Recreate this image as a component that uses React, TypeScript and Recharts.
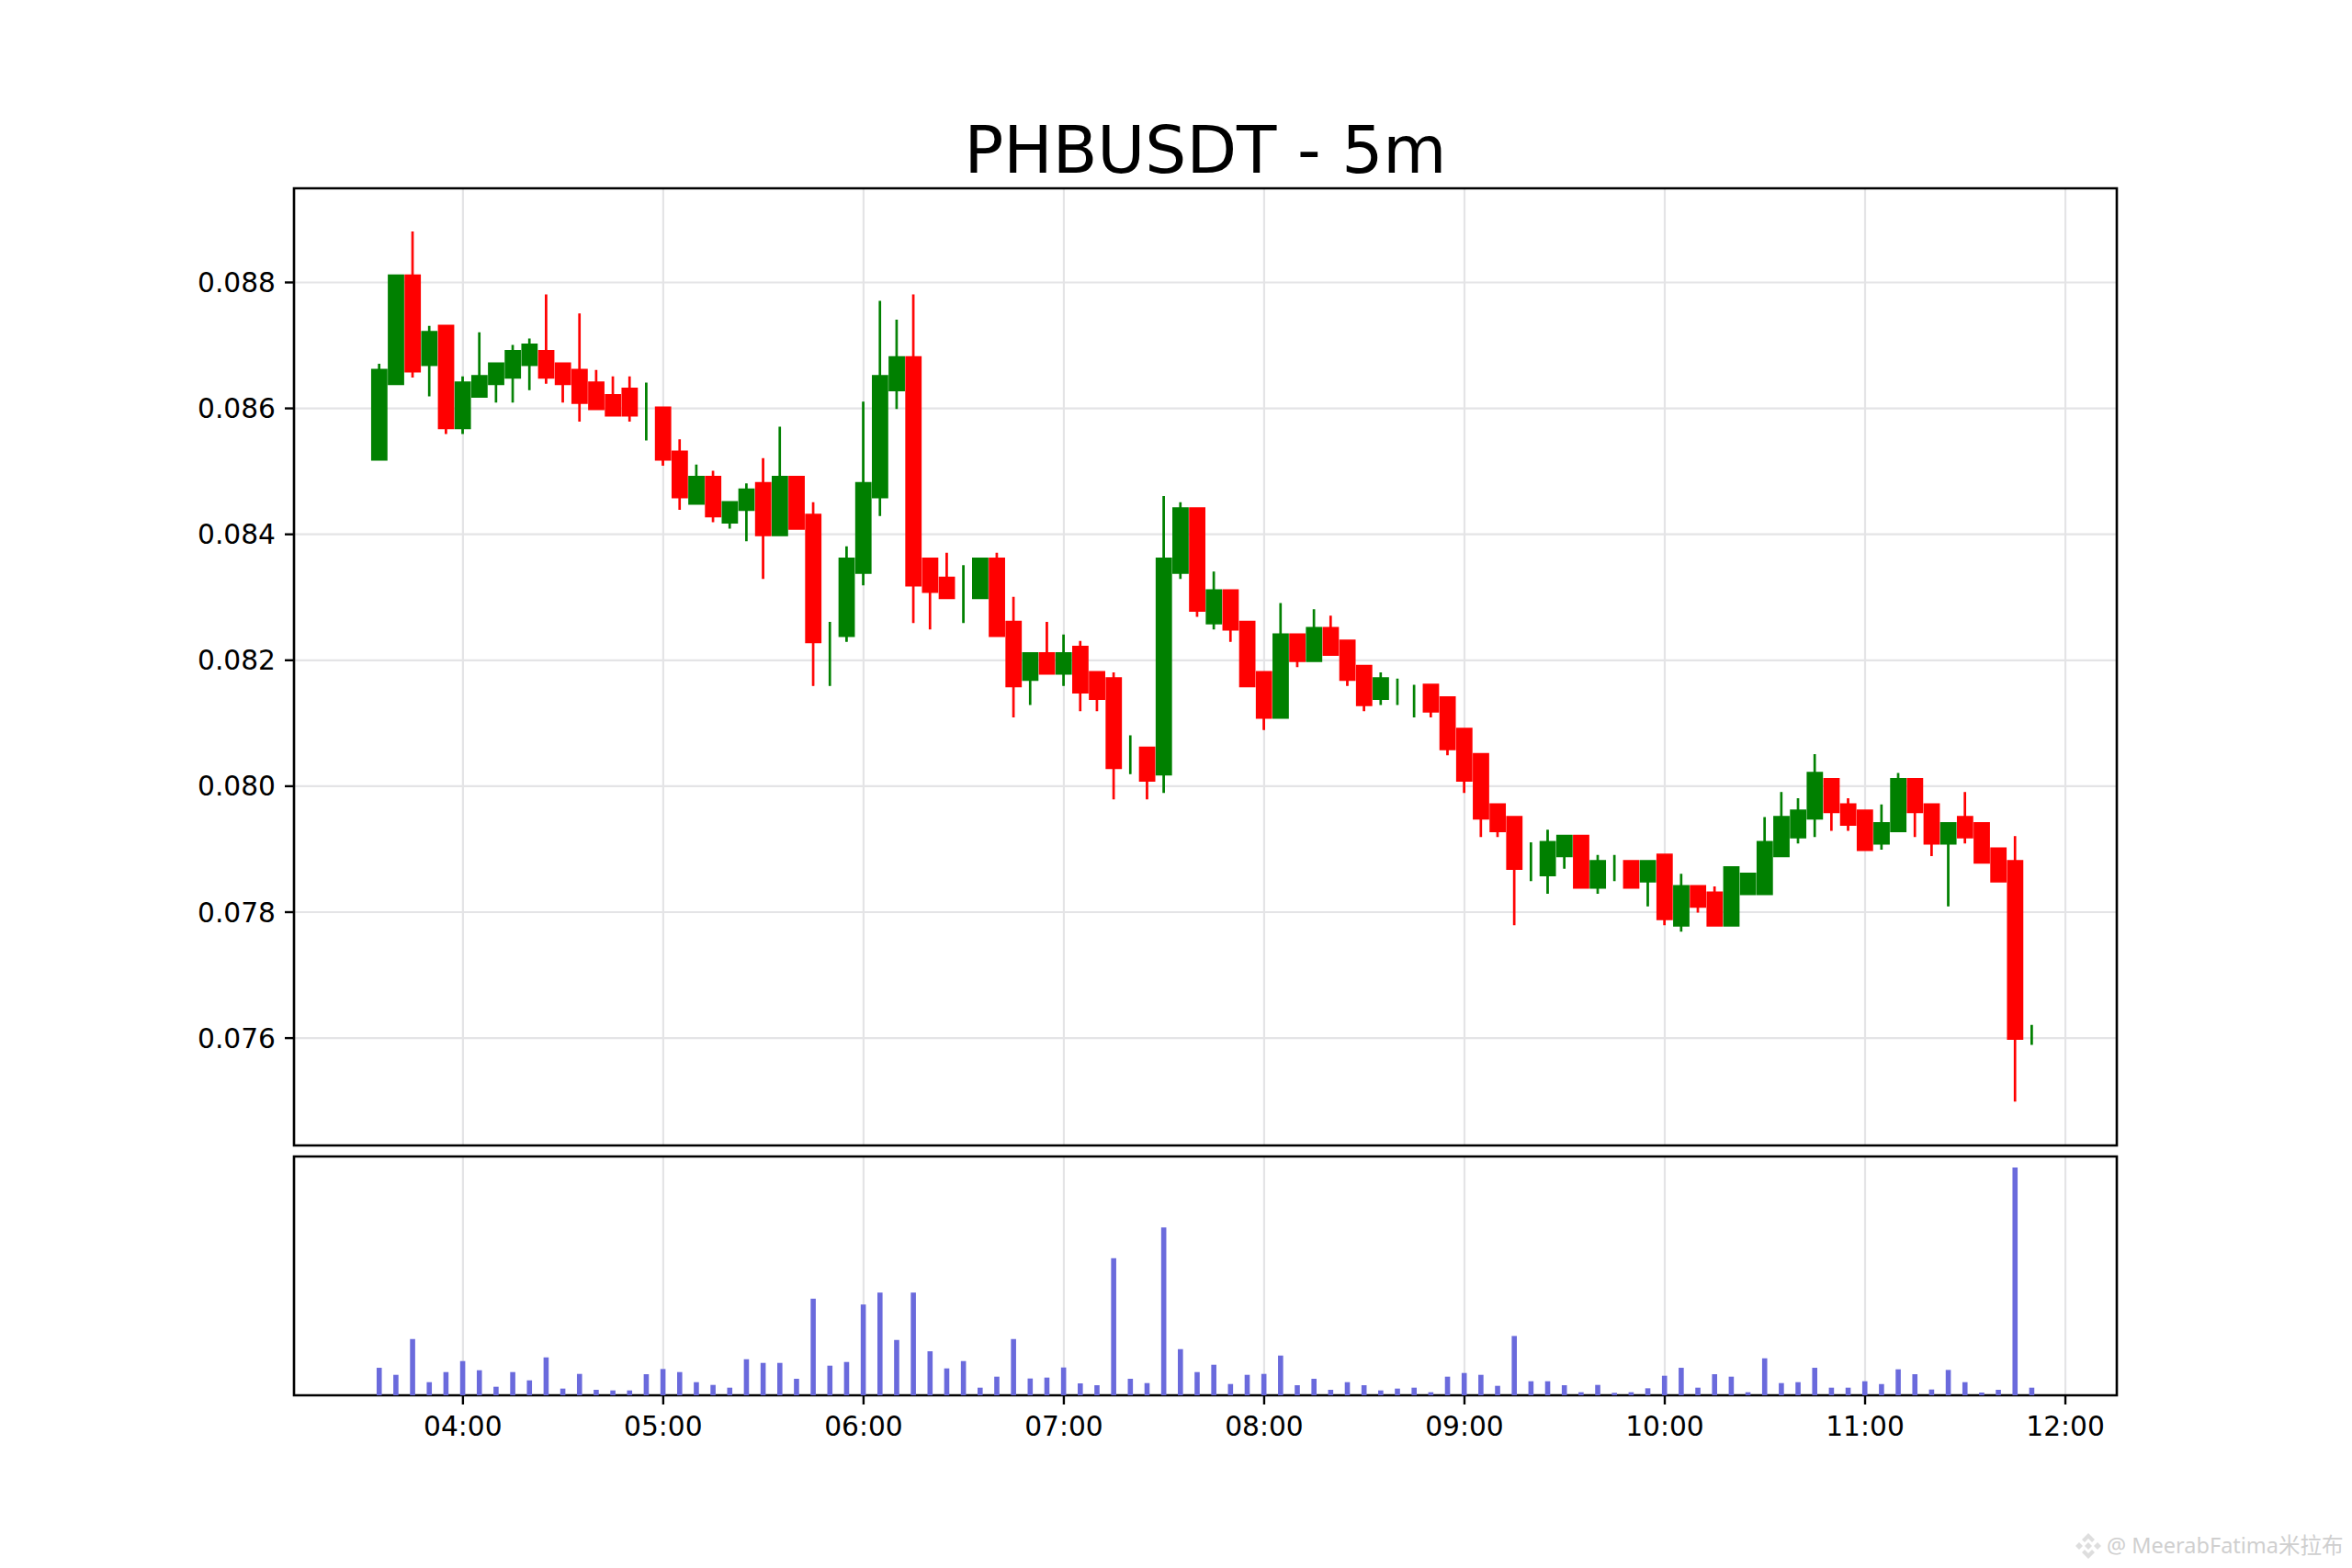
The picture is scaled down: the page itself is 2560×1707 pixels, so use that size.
import { Bar, CartesianGrid, Cell, ComposedChart, ReferenceArea, XAxis, YAxis } from "recharts";

const times = [
  "03:35", "03:40", "03:45", "03:50", "03:55", "04:00", "04:05", "04:10", "04:15", "04:20",
  "04:25", "04:30", "04:35", "04:40", "04:45", "04:50", "04:55", "05:00", "05:05", "05:10",
  "05:15", "05:20", "05:25", "05:30", "05:35", "05:40", "05:45", "05:50", "05:55", "06:00",
  "06:05", "06:10", "06:15", "06:20", "06:25", "06:30", "06:35", "06:40", "06:45", "06:50",
  "06:55", "07:00", "07:05", "07:10", "07:15", "07:20", "07:25", "07:30", "07:35", "07:40",
  "07:45", "07:50", "07:55", "08:00", "08:05", "08:10", "08:15", "08:20", "08:25", "08:30",
  "08:35", "08:40", "08:45", "08:50", "08:55", "09:00", "09:05", "09:10", "09:15", "09:20",
  "09:25", "09:30", "09:35", "09:40", "09:45", "09:50", "09:55", "10:00", "10:05", "10:10",
  "10:15", "10:20", "10:25", "10:30", "10:35", "10:40", "10:45", "10:50", "10:55", "11:00",
  "11:05", "11:10", "11:15", "11:20", "11:25", "11:30", "11:35", "11:40", "11:45", "11:50",
];

const opens = [
  0.0852, 0.0864, 0.0881, 0.0867, 0.0873, 0.0857, 0.0862, 0.0864, 0.0865, 0.0867,
  0.0869, 0.0867, 0.0866, 0.0864, 0.0862, 0.0863, 0.0859, 0.086, 0.0853, 0.0845,
  0.0849, 0.0842, 0.0844, 0.0848, 0.084, 0.0849, 0.0843, 0.0823, 0.0824, 0.0834,
  0.0846, 0.0863, 0.0868, 0.0836, 0.0833, 0.083, 0.083, 0.0836, 0.0826, 0.0817,
  0.0821, 0.0818, 0.0822, 0.0818, 0.0817, 0.0803, 0.0806, 0.0802, 0.0834, 0.0844,
  0.0826, 0.0831, 0.0826, 0.0818, 0.0811, 0.0824, 0.082, 0.0825, 0.0823, 0.0819,
  0.0814, 0.0815, 0.0814, 0.0816, 0.0814, 0.0809, 0.0805, 0.0797, 0.0795, 0.0787,
  0.0786, 0.0789, 0.0792, 0.0784, 0.0788, 0.0788, 0.0785, 0.0789, 0.0778, 0.0784,
  0.0783, 0.0778, 0.0783, 0.0783, 0.0789, 0.0792, 0.0795, 0.0801, 0.0797, 0.0796,
  0.0791, 0.0793, 0.0801, 0.0797, 0.0791, 0.0795, 0.0794, 0.079, 0.0788, 0.076,
];

const closes = [
  0.0866, 0.0881, 0.0866, 0.0872, 0.0857, 0.0864, 0.0865, 0.0867, 0.0869, 0.087,
  0.0865, 0.0864, 0.0861, 0.086, 0.0859, 0.0859, 0.0859, 0.0852, 0.0846, 0.0849,
  0.0843, 0.0845, 0.0847, 0.084, 0.0849, 0.0841, 0.0823, 0.0823, 0.0836, 0.0848,
  0.0865, 0.0868, 0.0832, 0.0831, 0.083, 0.083, 0.0836, 0.0824, 0.0816, 0.0821,
  0.0818, 0.0821, 0.0815, 0.0814, 0.0803, 0.0803, 0.0801, 0.0836, 0.0844, 0.0828,
  0.0831, 0.0825, 0.0816, 0.0811, 0.0824, 0.082, 0.0825, 0.0821, 0.0817, 0.0813,
  0.0817, 0.0815, 0.0814, 0.0812, 0.0806, 0.0801, 0.0795, 0.0793, 0.0787, 0.0787,
  0.0791, 0.0792, 0.0784, 0.0788, 0.0788, 0.0784, 0.0788, 0.0779, 0.0784, 0.0781,
  0.0778, 0.0787, 0.0786, 0.0791, 0.0795, 0.0796, 0.0802, 0.0796, 0.0794, 0.079,
  0.0794, 0.0801, 0.0796, 0.0791, 0.0794, 0.0792, 0.0788, 0.0785, 0.076, 0.076,
];

const highs = [
  0.0867, 0.0881, 0.0888, 0.0873, 0.0873, 0.0865, 0.0872, 0.0867, 0.087, 0.0871,
  0.0878, 0.0867, 0.0875, 0.0866, 0.0865, 0.0865, 0.0864, 0.086, 0.0855, 0.0851,
  0.085, 0.0845, 0.0848, 0.0852, 0.0857, 0.0849, 0.0845, 0.0826, 0.0838, 0.0861,
  0.0877, 0.0874, 0.0878, 0.0836, 0.0837, 0.0835, 0.0836, 0.0837, 0.083, 0.0821,
  0.0826, 0.0824, 0.0823, 0.0818, 0.0818, 0.0808, 0.0806, 0.0846, 0.0845, 0.0844,
  0.0834, 0.0831, 0.0826, 0.0818, 0.0829, 0.0824, 0.0828, 0.0827, 0.0823, 0.0819,
  0.0818, 0.0817, 0.0816, 0.0816, 0.0814, 0.0809, 0.0805, 0.0797, 0.0795, 0.0791,
  0.0793, 0.0792, 0.0792, 0.0789, 0.0789, 0.0788, 0.0788, 0.0789, 0.0786, 0.0784,
  0.0784, 0.0787, 0.0786, 0.0795, 0.0799, 0.0798, 0.0805, 0.0801, 0.0798, 0.0796,
  0.0797, 0.0802, 0.0801, 0.0797, 0.0794, 0.0799, 0.0794, 0.079, 0.0792, 0.0762,
];

const lows = [
  0.0852, 0.0864, 0.0865, 0.0862, 0.0856, 0.0856, 0.0862, 0.0861, 0.0861, 0.0863,
  0.0864, 0.0861, 0.0858, 0.086, 0.0859, 0.0858, 0.0855, 0.0851, 0.0844, 0.0845,
  0.0842, 0.0841, 0.0839, 0.0833, 0.084, 0.0841, 0.0816, 0.0816, 0.0823, 0.0832,
  0.0843, 0.086, 0.0826, 0.0825, 0.083, 0.0826, 0.083, 0.0824, 0.0811, 0.0813,
  0.0818, 0.0816, 0.0812, 0.0812, 0.0798, 0.0802, 0.0798, 0.0799, 0.0833, 0.0827,
  0.0825, 0.0823, 0.0816, 0.0809, 0.0811, 0.0819, 0.082, 0.0821, 0.0816, 0.0812,
  0.0813, 0.0813, 0.0811, 0.0811, 0.0805, 0.0799, 0.0792, 0.0792, 0.0778, 0.0785,
  0.0783, 0.0787, 0.0784, 0.0783, 0.0785, 0.0784, 0.0781, 0.0778, 0.0777, 0.078,
  0.0778, 0.0778, 0.0783, 0.0783, 0.0789, 0.0791, 0.0792, 0.0793, 0.0793, 0.079,
  0.079, 0.0793, 0.0792, 0.0789, 0.0781, 0.0791, 0.0788, 0.0785, 0.075, 0.0759,
];

const volumes = [
  90, 67, 184, 43, 76, 112, 82, 28, 76, 49,
  124, 22, 70, 18, 16, 16, 69, 86, 76, 43,
  34, 25, 118, 106, 106, 54, 316, 97, 109, 297,
  336, 181, 336, 144, 88, 112, 25, 61, 184, 55,
  58, 91, 39, 33, 448, 54, 40, 549, 151, 76,
  100, 37, 67, 70, 130, 33, 54, 18, 43, 33,
  16, 22, 25, 10, 61, 73, 67, 31, 194, 46,
  46, 33, 10, 34, 8, 10, 23, 64, 90, 25,
  69, 61, 10, 121, 40, 43, 90, 25, 25, 46,
  37, 85, 69, 19, 83, 43, 9, 18, 745, 25,
];

const hourTicks = [240, 300, 360, 420, 480, 540, 600, 660, 720];
const priceTicks = [0.076, 0.078, 0.08, 0.082, 0.084, 0.086, 0.088];
const timeDomain: [number, number] = [189.4, 735.4];
const priceDomain: [number, number] = [0.074295, 0.089495];
const volumeDomain: [number, number] = [0, 781];

const toMinutes = (t: string) => {
  const [h, m] = t.split(":");
  return Number(h) * 60 + Number(m);
};

const formatHour = (value: number) => `${String(Math.floor(value / 60)).padStart(2, "0")}:00`;

const candles = times.map((t, i) => ({
  minute: toMinutes(t),
  wick: [lows[i], highs[i]],
  body: [Math.min(opens[i], closes[i]), Math.max(opens[i], closes[i])],
  color: closes[i] >= opens[i] ? "#008000" : "#ff0000",
  volume: volumes[i],
}));

const font = "'DejaVu Sans', sans-serif";
const tickStyle = { fontSize: 29.7, fill: "#000000", fontFamily: font };
const gridColor = "#e4e4e6";
const frameWidth = 2.6;

export default function App() {
  return (
    <div style={{ position: "absolute", left: 0, top: 0, width: 2560, height: 1707, background: "#ffffff", overflow: "hidden" }}>
      <div style={{ position: "absolute", left: 0, top: 0 }}>
        <ComposedChart
          width={2560}
          height={1255}
          data={candles}
          margin={{ top: 205, right: 256, bottom: 8, left: 200 }}
        >
          <text x={1312} y={188} textAnchor="middle" fontSize={71} fill="#000000" fontFamily={font}>
            PHBUSDT - 5m
          </text>
          <XAxis xAxisId="wick" dataKey="minute" type="number" domain={timeDomain} ticks={hourTicks} allowDataOverflow hide />
          <XAxis xAxisId="body" dataKey="minute" type="number" domain={timeDomain} ticks={hourTicks} allowDataOverflow hide />
          <YAxis
            width={120}
            type="number"
            domain={priceDomain}
            ticks={priceTicks}
            allowDataOverflow
            axisLine={false}
            tickLine={{ stroke: "#000000", strokeWidth: 2.4 }}
            tickSize={10}
            tickMargin={10}
            tick={tickStyle}
            tickFormatter={(v: number) => v.toFixed(3)}
          />
          <CartesianGrid xAxisId="wick" stroke={gridColor} strokeWidth={2.2} strokeDasharray="none" />
          <Bar xAxisId="wick" dataKey="wick" barSize={1.5} isAnimationActive={false}>
            {candles.map((c) => (
              <Cell key={c.minute} fill={c.color} stroke={c.color} strokeWidth={1.2} />
            ))}
          </Bar>
          <Bar xAxisId="body" dataKey="body" barSize={13.8} isAnimationActive={false}>
            {candles.map((c) => (
              <Cell key={c.minute} fill={c.color} stroke={c.color} strokeWidth={4} />
            ))}
          </Bar>
          <ReferenceArea
            xAxisId="wick"
            x1={timeDomain[0]}
            x2={timeDomain[1]}
            y1={priceDomain[0]}
            y2={priceDomain[1]}
            fill="none"
            stroke="#000000"
            strokeWidth={frameWidth}
            fillOpacity={0}
            ifOverflow="visible"
          />
        </ComposedChart>
      </div>
      <div style={{ position: "absolute", left: 0, top: 1240 }}>
        <ComposedChart
          width={2560}
          height={400}
          data={candles}
          margin={{ top: 19, right: 256, bottom: 41, left: 320 }}
        >
          <XAxis
            dataKey="minute"
            type="number"
            domain={timeDomain}
            ticks={hourTicks}
            allowDataOverflow
            height={80}
            axisLine={false}
            tickLine={{ stroke: "#000000", strokeWidth: 2.4 }}
            tickSize={10}
            tickMargin={13}
            tick={tickStyle}
            tickFormatter={formatHour}
          />
          <YAxis type="number" domain={volumeDomain} allowDataOverflow hide />
          <CartesianGrid horizontal={false} stroke={gridColor} strokeWidth={2.2} strokeDasharray="none" />
          <Bar dataKey="volume" barSize={5.6} fill="#6a6adc" isAnimationActive={false} />
          <ReferenceArea
            x1={timeDomain[0]}
            x2={timeDomain[1]}
            y1={volumeDomain[0]}
            y2={volumeDomain[1]}
            fill="none"
            stroke="#000000"
            strokeWidth={frameWidth}
            fillOpacity={0}
            ifOverflow="visible"
          />
        </ComposedChart>
      </div>
      <svg style={{ position: "absolute", left: 2258, top: 1668 }} width={30} height={30} viewBox="0 0 30 30">
        <path d="M15 1 L22 8 L19 11 L15 7 L11 11 L8 8 Z M15 29 L22 22 L19 19 L15 23 L11 19 L8 22 Z M1 15 L5 11 L9 15 L5 19 Z M21 15 L25 11 L29 15 L25 19 Z M15 11 L19 15 L15 19 L11 15 Z" fill="#dedede" />
      </svg>
      <div
        style={{
          position: "absolute",
          left: 2293,
          top: 1665,
          fontFamily: "'Noto Sans', 'Noto Sans CJK SC', sans-serif",
          fontSize: 23.5,
          lineHeight: "34px",
          color: "#cfcfcf",
          whiteSpace: "nowrap",
        }}
      >
        @ MeerabFatima米拉布
      </div>
    </div>
  );
}
